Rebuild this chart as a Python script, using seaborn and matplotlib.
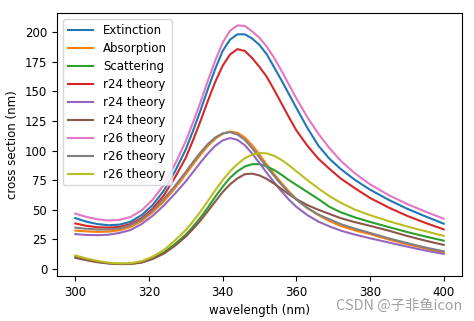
import matplotlib
matplotlib.use("Agg")
import matplotlib.pyplot as plt
import seaborn as sns

# wavelength grid (nm)
wavelength = [300, 303, 306, 309, 312, 315, 318, 321, 324, 327, 330, 332, 334,
              336, 338, 340, 342, 344, 346, 348, 350, 352, 354, 356, 358, 360,
              363, 366, 369, 372, 376, 380, 385, 390, 395, 400]

# measured cross sections (nm)
extinction = [43, 40, 38, 37, 37.5, 40, 45.5, 54, 66, 82, 101, 117, 134,
              152, 169, 184, 193.5, 198, 198, 194.5, 189, 181, 170, 159, 147.5, 136,
              119, 104, 93, 84.5, 75, 67, 58.5, 51, 44.5, 38.3]
absorption = [32.5, 31.8, 31.4, 31.6, 32.8, 35.5, 40.5, 48, 57, 68, 80, 88.5, 96.5,
              104, 110, 114, 116, 115, 111, 104.5, 96.5, 88, 80, 72.5, 65.5, 59,
              51.5, 45.5, 40.5, 36.5, 32.5, 29.5, 25, 21, 17.5, 14]
scattering = [10.5, 8.3, 6.3, 5, 4.4, 4.5, 5.8, 9, 14, 21, 29, 36, 43.5,
              52, 61, 69.5, 77, 82.5, 86.5, 88.5, 88.5, 86.5, 83.5, 79.5, 75, 71,
              65, 59, 52.5, 48, 43.5, 39.8, 35.5, 31.3, 27.5, 24]

# Mie theory, r = 24 nm
r24_ext = [38.5, 36.5, 35.3, 35, 35.6, 38, 43, 51, 62, 77, 94, 109, 125,
           142, 158, 171.5, 181, 185.5, 184, 178, 170.5, 162, 151, 139.5, 128, 117,
           104, 93, 84.5, 76.5, 68, 60, 52, 45, 39, 33.5]
r24_abs = [29.5, 28.8, 28.6, 29, 30.5, 33, 38, 45, 53.5, 63.5, 74, 82, 90,
           97.5, 104, 108.5, 110.5, 109, 104.5, 97.5, 89.5, 81, 73, 65.5, 58.5, 52.5,
           45.5, 40, 36, 32.5, 29, 26, 22.5, 19, 15.7, 12.8]
r24_sca = [9.5, 7.5, 5.8, 4.7, 4.2, 4.3, 5.5, 8.5, 13, 19.5, 27.5, 34, 41,
           49, 57, 65, 71.5, 76.5, 80, 80.5, 79, 76, 72, 67.5, 63, 59,
           54, 50, 46.5, 43, 39.5, 36.5, 32.5, 28, 24, 20.4]

# Mie theory, r = 26 nm
r26_ext = [46.8, 44, 42, 41, 41.5, 44, 49.5, 58.5, 71, 88, 108, 124, 141,
           159, 176, 191, 201, 205.5, 205, 200.5, 195, 187.5, 178, 167, 155.5, 144,
           128, 114, 102, 91.5, 80.5, 71.5, 62.5, 55, 48.5, 42.5]
r26_abs = [35, 34, 33.4, 33.4, 34.3, 37, 42, 49.5, 59, 70, 82, 90.5, 98.5,
           105.5, 111, 114.5, 115.5, 113.5, 109, 102, 94, 86, 78.5, 71, 64.5, 58.5,
           51.5, 46, 42, 38, 34, 30.5, 26, 22, 18.2, 15]
r26_sca = [11.5, 9, 7, 5.4, 4.8, 5, 6.7, 10.5, 16, 24, 33, 40.5, 48.5,
           57.5, 66.5, 75, 82.5, 88.5, 93.5, 96.5, 98, 97.5, 95.5, 92, 87.5, 82.5,
           75, 68, 61.5, 56, 50, 45.5, 40.5, 36, 32, 28]

series = [
    ("Extinction", extinction),
    ("Absorption", absorption),
    ("Scattering", scattering),
    ("r24 theory", r24_ext),
    ("r24 theory", r24_abs),
    ("r24 theory", r24_sca),
    ("r26 theory", r26_ext),
    ("r26 theory", r26_abs),
    ("r26 theory", r26_sca),
]

fs = 8.5
plt.rcParams.update({"font.size": fs, "xtick.labelsize": fs, "ytick.labelsize": fs,
                     "axes.labelsize": fs, "legend.fontsize": fs})

fig = plt.figure(figsize=(4.74, 3.21), dpi=100)
ax = fig.add_axes([0.120, 0.140, 0.855, 0.818])

palette = sns.color_palette("tab10", 9)
for (name, vals), col in zip(series, palette):
    sns.lineplot(x=wavelength, y=vals, ax=ax, label=name, color=col, linewidth=1.5)

ax.set_xlabel("wavelength (nm)")
ax.set_ylabel("cross section (nm)")
ax.set_xticks([300, 320, 340, 360, 380, 400])
ax.set_yticks([0, 25, 50, 75, 100, 125, 150, 175, 200])
ax.legend(loc="upper left", labelspacing=0.42, handlelength=2.2)

fig.text(0.975, 0.048, "CSDN @子非鱼icon", ha="right", va="center", fontsize=10.3,
         color="#a0a0a0", family=["Noto Sans CJK SC", "DejaVu Sans"])

fig.savefig("out.png", dpi=100)
